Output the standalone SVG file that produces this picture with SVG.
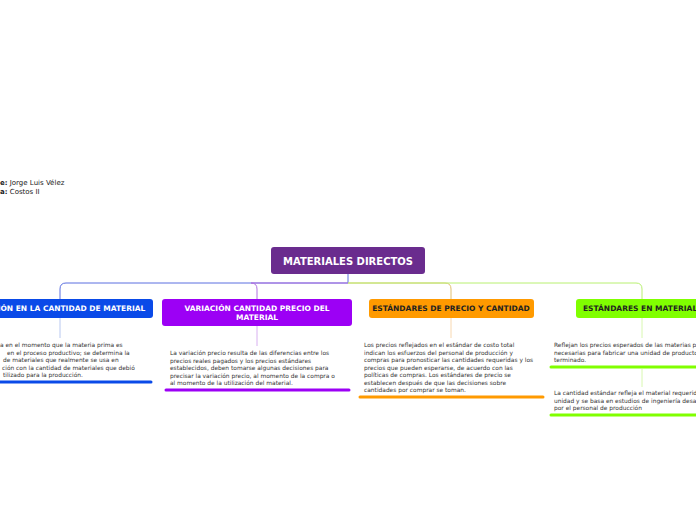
<svg xmlns="http://www.w3.org/2000/svg" width="696" height="520" viewBox="0 0 696 520">
<style>
text{font-family:"DejaVu Sans",Verdana,sans-serif}
.t{font-size:7.5px;font-weight:bold;text-anchor:middle}
.b{font-size:5.9px;fill:#333}
.c{fill:none;stroke-width:1}
</style>
<rect width="696" height="520" fill="#fff"/>
<text x="0" y="185" style="font-size:7px;fill:#222"><tspan font-weight="bold">e:</tspan> Jorge Luis Vélez</text>
<text x="0" y="194" style="font-size:7px;fill:#222"><tspan font-weight="bold">a:</tspan> Costos II</text>
<g id="connectors">
<path class="c" stroke="#5a6fe0" d="M348 274V283H66Q60 283 60 289V299"/>
<path class="c" stroke="#b070e0" d="M348 283H251Q257 283 257 289V299"/>
<path class="c" stroke="#e0c070" d="M348 283H445Q451 283 451 289V299"/>
<path class="c" stroke="#b8f070" d="M348 283H636Q642 283 642 289V299"/>
<path class="c" stroke="#b8c8f0" d="M60 318V338"/>
<path class="c" stroke="#d8b0f0" d="M257 326V346"/>
<path class="c" stroke="#f8d8b0" d="M451 318V338"/>
<path class="c" stroke="#d8f8b0" d="M642 318V338M642 369V387"/>
</g>
<g id="center"><rect x="271" y="247" width="154" height="27" rx="3" fill="#6a2c8e"/><text x="348" y="265" class="t" style="font-size:10px" fill="#fff">MATERIALES DIRECTOS</text></g>
<g id="n1"><rect x="-40" y="299" width="193" height="19" rx="3" fill="#0a4ae8"/><text x="56" y="311" class="t" fill="#fff">VARIACIÓN EN LA CANTIDAD DE MATERIAL</text>
<text class="b"><tspan x="0" y="347">a en el momento que la materia prima es</tspan><tspan x="7" y="354.5">en el proceso productivo; se determina la</tspan><tspan x="3" y="362">de materiales que realmente se usa en</tspan><tspan x="2" y="369.5">ción con la cantidad de materiales que debió</tspan><tspan x="3" y="377">tilizado para la producción.</tspan></text>
<path d="M0 382H151" stroke="#0a4ae8" stroke-width="3" stroke-linecap="round"/></g>
<g id="n2"><rect x="162" y="299" width="190" height="27" rx="3" fill="#9c00f5"/><text x="257" y="311" class="t" fill="#fff">VARIACIÓN CANTIDAD PRECIO DEL</text><text x="257" y="320" class="t" fill="#fff">MATERIAL</text>
<text class="b"><tspan x="170" y="355">La variación precio resulta de las diferencias entre los</tspan><tspan x="170" y="362.5">precios reales pagados y los precios estándares</tspan><tspan x="170" y="370">establecidos, deben tomarse algunas decisiones para</tspan><tspan x="170" y="377.5">precisar la variación precio, al momento de la compra o</tspan><tspan x="170" y="385">al momento de la utilización del material.</tspan></text>
<path d="M166 390H349" stroke="#9c00f5" stroke-width="3" stroke-linecap="round"/></g>
<g id="n3"><rect x="369" y="299" width="165" height="19" rx="3" fill="#ff9a00"/><text x="451" y="311" class="t" fill="#222">ESTÁNDARES DE PRECIO Y CANTIDAD</text>
<text class="b"><tspan x="364" y="347">Los precios reflejados en el estándar de costo total</tspan><tspan x="364" y="354.5">indican los esfuerzos del personal de producción y</tspan><tspan x="364" y="362">compras para pronosticar las cantidades requeridas y los</tspan><tspan x="364" y="369.5">precios que pueden esperarse, de acuerdo con las</tspan><tspan x="364" y="377">políticas de compras. Los estándares de precio se</tspan><tspan x="364" y="384.5">establecen después de que las decisiones sobre</tspan><tspan x="364" y="392">cantidades por comprar se toman.</tspan></text>
<path d="M360 397H543" stroke="#ff9a00" stroke-width="3" stroke-linecap="round"/></g>
<g id="n4"><rect x="576" y="299" width="140" height="19" rx="3" fill="#80ff00"/><text x="583" y="311" class="t" style="text-anchor:start" fill="#222">ESTÁNDARES EN MATERIALES</text>
<text class="b"><tspan x="554" y="347">Reflejan los precios esperados de las materias primas</tspan><tspan x="554" y="354.5">necesarias para fabricar una unidad de producto</tspan><tspan x="554" y="362">terminado.</tspan></text>
<path d="M551 367H700" stroke="#80ff00" stroke-width="3" stroke-linecap="round"/>
<text class="b"><tspan x="554" y="395">La cantidad estándar refleja el material requerido por</tspan><tspan x="554" y="402.5">unidad y se basa en estudios de ingeniería desarrollados</tspan><tspan x="554" y="410">por el personal de producción</tspan></text>
<path d="M551 415H700" stroke="#80ff00" stroke-width="3" stroke-linecap="round"/></g>
</svg>
